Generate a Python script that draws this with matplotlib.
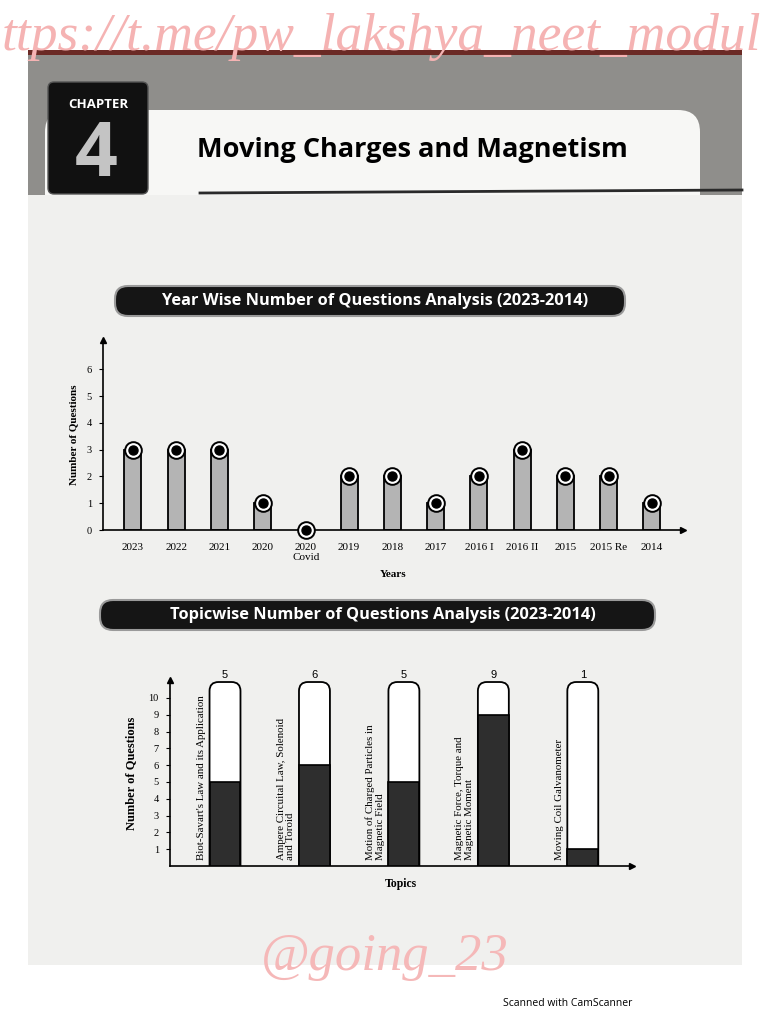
import matplotlib
matplotlib.use("Agg")
import matplotlib.pyplot as plt
from matplotlib.patches import FancyBboxPatch, Rectangle

# ---------------- data ----------------
years = ["2023", "2022", "2021", "2020", "2020\nCovid", "2019", "2018", "2017",
         "2016 I", "2016 II", "2015", "2015 Re", "2014"]
year_counts = [3, 3, 3, 1, 0, 2, 2, 1, 2, 3, 2, 2, 1]
year_ticks = [0, 1, 2, 3, 4, 5, 6]

topics = ["Biot-Savart's Law and its Application",
          "Ampere Circuital Law, Solenoid\nand Toroid",
          "Motion of Charged Particles in\nMagnetic Field",
          "Magnetic Force, Torque and\nMagnetic Moment",
          "Moving Coil Galvanometer"]
topic_counts = [5, 6, 5, 9, 1]
topic_ticks = [1, 2, 3, 4, 5, 6, 7, 8, 9, 10]

SERIF = ["Liberation Serif", "DejaVu Serif"]
SANS = ["Open Sans", "DejaVu Sans"]

W, H = 768, 1024
fig = plt.figure(figsize=(W / 100, H / 100), dpi=100)
fig.patch.set_facecolor("white")

# background / page decoration in pixel coordinates
bg = fig.add_axes([0, 0, 1, 1], zorder=0)
bg.set_xlim(0, W)
bg.set_ylim(H, 0)
bg.axis("off")

page_col = "#f0f0ee"
bg.add_patch(Rectangle((28, 50), 714, 915, facecolor=page_col, edgecolor="none"))
bg.add_patch(Rectangle((28, 50), 714, 150, facecolor="#8f8e8b", edgecolor="none"))
bg.add_patch(Rectangle((28, 50), 714, 5, facecolor="#6b2a25", edgecolor="none"))
bg.add_patch(FancyBboxPatch((45, 110), 655, 150, boxstyle="round,pad=0,rounding_size=22",
                            facecolor="#f7f7f5", edgecolor="none"))
bg.add_patch(Rectangle((28, 195), 714, 80, facecolor=page_col, edgecolor="none"))
bg.plot([200, 742], [193, 190], color="#2a2a2a", lw=2)

# chapter box
bg.add_patch(FancyBboxPatch((48, 82), 100, 112, boxstyle="round,pad=0,rounding_size=6",
                            facecolor="#111111", edgecolor="#555555", lw=1))
bg.text(98, 104, "CHAPTER", color="white", fontsize=9.5, fontweight="bold",
        family=SANS, ha="center", va="center")
bg.text(96, 156, "4", color="#c4c4c4", fontsize=54, fontweight="bold",
        family=SANS, ha="center", va="center")
bg.text(197, 150, "Moving Charges and Magnetism", color="black", fontsize=19.5,
        fontweight="bold", family=SANS, ha="left", va="center")

# banners
def banner(x0, x1, yc, text):
    bg.add_patch(FancyBboxPatch((x0, yc - 15), x1 - x0, 30, boxstyle="round,pad=0,rounding_size=13",
                                facecolor="#151515", edgecolor="#9a9a9a", lw=1.5))
    bg.text((x0 + x1) / 2 + 5, yc, text, color="white", fontsize=11.8, fontweight="bold",
            family=SANS, ha="center", va="center")

banner(115, 625, 301, "Year Wise Number of Questions Analysis (2023-2014)")
banner(100, 655, 615, "Topicwise Number of Questions Analysis (2023-2014)")

# watermarks
bg.text(2, 50, "ttps://t.me/pw_lakshya_neet_modul", color="#f5b3b3", fontsize=38.5,
        style="italic", family=SERIF, ha="left", va="baseline", zorder=5)
bg.text(385, 957, "@going_23", color="#f5b8b8", fontsize=38,
        style="italic", family=SERIF, ha="center", va="center", zorder=5)
bg.text(568, 1004, "Scanned with CamScanner", color="black", fontsize=7.5,
        family=SANS, ha="center", va="center")

# ---------------- top chart ----------------
def px_axes(left, top, right, bottom):
    return fig.add_axes([left / W, 1 - bottom / H, (right - left) / W, (bottom - top) / H], zorder=2)

ax1 = px_axes(103, 340, 683, 530)
ax1.patch.set_alpha(0)
xs = list(range(len(years)))
ax1.bar(xs, year_counts, width=0.39, color="#b4b4b4", edgecolor="black", linewidth=1.3, zorder=2)
ax1.plot(xs, year_counts, "o", ms=12, mfc="white", mec="black", mew=1.4, zorder=3, clip_on=False)
ax1.plot(xs, year_counts, "o", ms=6.5, color="black", zorder=4, clip_on=False)
ax1.set_xlim(-0.69, 12.72)
ax1.set_ylim(0, 7.1)
ax1.set_xticks(xs)
ax1.set_xticklabels(years, fontsize=8, family=SERIF)
ax1.set_yticks(year_ticks)
ax1.set_yticklabels([str(t) for t in year_ticks], fontsize=7.5, family=SERIF)
ax1.tick_params(axis="x", length=0, pad=9)
ax1.tick_params(axis="y", length=3, width=0.8, pad=5)
for s in ["top", "right"]:
    ax1.spines[s].set_visible(False)
for s in ["left", "bottom"]:
    ax1.spines[s].set_linewidth(1.2)
ax1.plot(1, 0, ">k", ms=5, transform=ax1.transAxes, clip_on=False)
ax1.plot(0, 1, "^k", ms=4, transform=ax1.transAxes, clip_on=False)
ax1.set_ylabel("Number of Questions", fontsize=8, fontweight="bold", family=SERIF, labelpad=6)
ax1.set_xlabel("Years", fontsize=8, fontweight="bold", family=SERIF, labelpad=6)

# ---------------- bottom chart ----------------
ax2 = px_axes(170, 680, 632, 866)
ax2.patch.set_alpha(0)
tx = list(range(len(topics)))
bw = 0.346
for i in tx:
    ax2.add_patch(FancyBboxPatch((i - bw / 2, -2), bw, 12.95,
                                 boxstyle="round,pad=0,rounding_size=0.1",
                                 mutation_aspect=5.33, facecolor="white",
                                 edgecolor="black", lw=1.3, zorder=2))
ax2.bar(tx, topic_counts, width=bw, color="#2e2e2e", edgecolor="black", linewidth=1.2, zorder=3)
for i, v in zip(tx, topic_counts):
    ax2.text(i, 11.05, str(v), ha="center", va="bottom", fontsize=8, family=["Liberation Sans"])
    ax2.text(i - 0.215, 0.35, topics[i], rotation=90, ha="right", va="bottom",
             fontsize=7.8, family=SERIF, multialignment="left", linespacing=1.1)
ax2.set_xlim(-0.615, 4.55)
ax2.set_ylim(0, 11.07)
ax2.set_xticks([])
ax2.set_yticks(topic_ticks)
ax2.set_yticklabels([str(t) for t in topic_ticks], fontsize=7.5, family=SERIF)
ax2.tick_params(axis="y", length=3, width=0.8, pad=5)
for s in ["top", "right"]:
    ax2.spines[s].set_visible(False)
for s in ["left", "bottom"]:
    ax2.spines[s].set_linewidth(1.2)
ax2.plot(1, 0, ">k", ms=5, transform=ax2.transAxes, clip_on=False)
ax2.plot(0, 1, "^k", ms=4, transform=ax2.transAxes, clip_on=False)
ax2.set_ylabel("Number of Questions", fontsize=9, fontweight="bold", family=SERIF, labelpad=8)
ax2.set_xlabel("Topics", fontsize=8.5, fontweight="bold", family=SERIF, labelpad=9)

fig.savefig("out.png", dpi=100)
